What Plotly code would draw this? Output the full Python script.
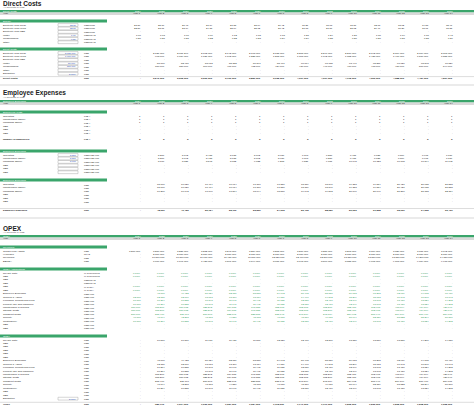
import plotly.graph_objects as go

W, H = 474, 409
GREEN = "#3aa56b"
GREY = "#d9d9d9"
TXT = "#222222"
GTXT = "#2f9a5a"
FONT = "Liberation Sans"

years = [str(2024 + i) for i in range(15)]
year_labels = ["Year %d" % (i + 1) for i in range(15)]

# ---- Direct costs data ----
solar_price = [23.80, 25.70, 26.43, 27.14, 27.88, 28.64, 29.42, 30.21, 31.03, 31.87, 32.73, 33.62, 34.53, 35.47, 36.43]
wind_price = [22.50, 23.11, 23.74, 24.38, 25.04, 25.72, 26.42, 27.13, 27.87, 28.62, 29.40, 30.20, 31.01, 31.85, 32.72]
water_price = [1.00, 1.03, 1.06, 1.09, 1.12, 1.15, 1.18, 1.21, 1.24, 1.27, 1.30, 1.34, 1.37, 1.41, 1.45]
cons_price = [0.20, 0.21, 0.21, 0.22, 0.22, 0.23, 0.24, 0.24, 0.25, 0.26, 0.26, 0.27, 0.28, 0.29, 0.29]
solar_cost = [None, 2121000, 2081240, 2102000, 2142000, 2163000, 2185000, 2208000, 2246000, 2270000, 2342000, 2369000, 2379000, 2398000, 2442000]
wind_cost = [None, 998000, 1089000, 1121000, 1192000, 1228000, 1265000, 1303000, 1342000, 1382000, 1423000, 1466000, 1510000, 1555000, 1625000]
water_cost = [None, 51000, 52437, 53912, 55382, 56897, 58461, 60074, 61735, 63447, 65211, 67026, 68898, 70829, 71413]
cons_cost = [None, 370000, 380000, 390000, 401000, 412000, 424000, 436000, 447000, 460000, 473000, 486000, 500000, 544000, 571000]
direct_total = [None, 3540000, 3602000, 3666000, 3790000, 3859000, 3932000, 4007000, 4097000, 4175000, 4303000, 4388000, 4457000, 4567000, 4709000]

# ---- Employee data ----
fte = [1] * 15
n_employees = [3] * 15
op_rate = [None, 5200, 5342, 5488, 5638, 5792, 5950, 6113, 6280, 6451, 6628, 6809, 6995, 7186, 7382]
mo_rate = [None, 5200, 5342, 5488, 5638, 5792, 5950, 6113, 6280, 6451, 6628, 6809, 6995, 7186, 7382]
mg_rate = [None, 8100, 8321, 8548, 8782, 9022, 9268, 9521, 9781, 10048, 10323, 10605, 10894, 11192, 11497]
op_cost = [None, 15600, 16026, 16464, 16914, 17376, 17850, 18339, 18840, 19353, 19884, 20427, 20985, 21558, 22146]
mo_cost = [None, 15600, 16026, 16464, 16914, 17376, 17850, 18339, 18840, 19353, 19884, 20427, 20985, 21558, 22146]
mg_cost = [None, 16200, 16642, 17096, 17564, 18044, 18536, 19042, 19562, 20096, 20646, 21210, 21788, 22384, 22994]
emp_total = [None, 48000, 49422, 50724, 52110, 53530, 54992, 56495, 58050, 59633, 61268, 62939, 64665, 66439, 68224]

# ---- OPEX data ----
gfa = [3200000, 3210000, 3221000, 3232000, 3243000, 3254000, 3265000, 3276000, 3287000, 3298000, 3309000, 3320000, 3331000, 3342000, 3353000]
hydrogen = [0, 2300000, 2310000, 2310000, 2310000, 2310000, 2310000, 2310000, 2310000, 2310000, 2310000, 2310000, 2310000, 2310000, 2310000]
revenues = [None, 10570000, 10870000, 11170000, 11480000, 11800000, 12120000, 12460000, 12800000, 13150000, 13510000, 13880000, 14260000, 14650000, 15050000]
ebitda = [None, 7000000, 7191000, 7423000, 7591000, 7844000, 8081000, 8348000, 8590000, 8855000, 9095000, 9363000, 9654000, 9913000, 10196000]
pct_rev = ["0.10%"] * 15
pct_gfa = ["0.10%"] * 15
ga_rate = [12000, 12330, 12666, 13013, 13369, 13734, 14110, 14496, 14892, 15299, 15718, 16148, 16590, 17043, 17509]
fix_rate = [10000, 10274, 10555, 10843, 11140, 11445, 11758, 12080, 12410, 12749, 13098, 13456, 13824, 14202, 14591]
mr_rate = [300000, 308200, 316632, 325292, 334188, 343328, 352718, 362365, 372276, 382457, 392918, 403664, 414704, 426046, 437698]
tr_rate = [200000, 205470, 211090, 216863, 222795, 228888, 235148, 241579, 248184, 254972, 261946, 269109, 276470, 284031, 291799]
sec_rate = [40000, 41094, 42218, 43373, 44559, 45778, 47030, 48316, 49637, 50994, 52389, 53822, 55294, 56806, 58360]
cont_rate = [10000, 10274, 10555, 10843, 11140, 11445, 11758, 12080, 12410, 12749, 13098, 13456, 13824, 14202, 14591]
royalty = [None, 10570, 10870, 11170, 11480, 11800, 12120, 12460, 12800, 13150, 13510, 13880, 14260, 14650, 15050]
ga_cost = [None, 12330, 12666, 13013, 13369, 13734, 14110, 14496, 14892, 15299, 15718, 16148, 16590, 17043, 17509]
fix_cost = [None, 10274, 10555, 10843, 11140, 11445, 11758, 12080, 12410, 12749, 13098, 13456, 13824, 14202, 14591]
mr_cost = [None, 308200, 316632, 325292, 334188, 343328, 352718, 362365, 372276, 382457, 392918, 403664, 414704, 426046, 437698]
tr_cost = [None, 205470, 211090, 216863, 222795, 228888, 235148, 241579, 248184, 254972, 261946, 269109, 276470, 284031, 291799]
sec_cost = [None, 41094, 42218, 43373, 44559, 45778, 47030, 48316, 49637, 50994, 52389, 53822, 55294, 56806, 58360]
cont_cost = [None, 10274, 10555, 10843, 11140, 11445, 11758, 12080, 12410, 12749, 13098, 13456, 13824, 14202, 14591]
opex_total = [None, 980710, 1004000, 1030000, 1057000, 1084000, 1112000, 1141000, 1171000, 1202000, 1233000, 1265000, 1298000, 1332000, 1367000]

COLX = [133 + 24 * i for i in range(15)]
fig = go.Figure()
shapes, ann = [], []


def txt(x, y, s, size=3, color=TXT, bold=False, anchor="left"):
    if bold:
        s = "<b>%s</b>" % s
    ann.append(dict(x=x, y=y, text=s, showarrow=False, xanchor=anchor, yanchor="middle", borderpad=0,
                    font=dict(size=size, color=color, family=FONT)))


def rect(x0, y0, x1, y1, fill=None, line=None):
    shapes.append(dict(type="rect", x0=x0, y0=y0, x1=x1, y1=y1, fillcolor=fill or "rgba(0,0,0,0)",
                       line=dict(width=0.5 if line else 0, color=line or "rgba(0,0,0,0)")))


def hline(y, x0=0, x1=W, color="#bbbbbb", w=0.5):
    shapes.append(dict(type="line", x0=x0, x1=x1, y0=y, y1=y, line=dict(color=color, width=w)))


def fmt(v, dec=0):
    if v is None:
        return "-"
    if isinstance(v, str):
        return v
    if dec:
        return "%.2f" % v
    return "{:,}".format(int(round(v))) if v != 0 else "-"


def header(y, title, sub, bar):
    txt(2, y, title, size=6.5, bold=True)
    txt(2, y + 4.5, sub, size=2.5, color="#555")
    rect(0, y + 7, W, y + 9.5, fill=GREEN)
    txt(2, y + 8.2, bar, size=2.5, color="white")
    for i, x in enumerate(COLX):
        txt(x + 9, y + 8.2, years[i], size=2.5, color="white", anchor="right")
    rect(0, y + 9.5, W, y + 12, fill=GREY)
    txt(2, y + 10.8, "Year", size=2.5)
    for i, x in enumerate(COLX):
        txt(x + 9, y + 10.8, year_labels[i], size=2.5, anchor="right")


def section(y, title):
    rect(0, y - 1.6, 107, y + 1.6, fill=GREEN)
    txt(2, y, title, size=2.5, color="white")


def row(y, label, unit, vals=None, inp=None, dec=0, color=TXT, bold=False, box=False):
    txt(2, y, label, size=2.5, bold=bold)
    if box or inp is not None:
        rect(58, y - 1.4, 78, y + 1.4, line="#aaaaaa")
        if inp is not None:
            txt(77, y, inp, size=2.3, color="#1f4fbf", anchor="right")
    txt(83, y, unit, size=2.3, bold=bold)
    for i, x in enumerate(COLX):
        v = vals[i] if vals is not None else None
        txt(x + 9, y, fmt(v, dec), size=2.5, color=color, bold=bold, anchor="right")


S = 3.45
# ---------------- Direct Costs ----------------
header(3, "Direct Costs", "All amounts in USD", "Direct Costs")
section(21, "Energy")
en = [("Electricity from Solar", "USD/MWh", solar_price, "23.80"), ("Electricity from Wind", "USD/MWh", wind_price, "22.50"),
      ("Electricity from TBD", "USD/MWh", None, None), ("Water", "USD/kg H2", water_price, "1.00"),
      ("Consumables", "USD/kg H2", cons_price, "0.20"), ("Other", "USD/kg H2", None, None)]
for k, (l, u, v, i) in enumerate(en):
    row(25 + k * S, l, u, v, i, dec=2, box=True)
section(49, "Direct Costs")
dc = [("Electricity from Solar", solar_cost, "2,121,000"), ("Electricity from Wind", wind_cost, "1,000,000"),
      ("Electricity from TBD", None, None), ("Water", water_cost, "51,000"), ("Consumables", cons_cost, "370,000"),
      ("Other", None, None), ("Escalation", None, "2.70%")]
for k, (l, v, i) in enumerate(dc):
    row(53 + k * S, l, "USD", v, i, box=True)
hline(76.6)
row(78.3, "Direct Costs", "USD", direct_total, bold=True)
hline(85, color="#e5e5e5", w=1.5)

# ---------------- Employee Expenses ----------------
header(93, "Employee Expenses", "All amounts in USD", "Employee Expenses")
names = ["Operators", "Maintenance Officer", "Managing Officer", "TBD", "TBD", "TBD"]
section(112, "Employees (FTE)")
for k, l in enumerate(names):
    row(116 + k * S, l, "FTE #", fte if k < 3 else None)
row(139, "Number of Employees", "FTE #", n_employees, bold=True)
section(151, "Employee Expenses")
rates = [op_rate, mo_rate, mg_rate, None, None, None]
rinp = ["5,200", "5,200", "8,100", None, None, None]
for k, l in enumerate(names):
    row(155 + k * S, l, "USD/FTE/Year", rates[k], rinp[k], box=True)
section(180, "Employee Expenses")
costs = [op_cost, mo_cost, mg_cost, None, None, None]
for k, l in enumerate(names):
    row(184.5 + k * S, l, "USD", costs[k])
hline(208.5)
row(210, "Employee Expenses", "USD", emp_total, bold=True)
hline(218, color="#e5e5e5", w=1.5)

# ---------------- OPEX ----------------
header(228, "OPEX", "All amounts in USD", "OPEX")
section(247, "Revenues")
rv = [("Gross Fixed Assets", "USD", gfa), ("Hydrogen", "kg H2", hydrogen), ("Revenues", "USD", revenues), ("EBITDA", "USD", ebitda)]
for k, (l, u, v) in enumerate(rv):
    row(251 + k * S, l, u, v)
section(269, "OPEX Assumptions")
oa = [("Royalty Rate", "% of Revenues", pct_rev), ("TBD", "% of Revenues", pct_rev), ("TBD", "USD/kg H2", None),
      ("TBD", "USD/kg H2", None), ("TBD", "% of GFA", pct_gfa), ("TBD", "% of GFA", pct_gfa),
      ("Employee Expenses", "USD/Year", [None] + emp_total[1:]), ("General & Admin", "USD/Year", ga_rate),
      ("Licensing, Permits and Fees", "USD/Year", fix_rate), ("Property Tax and Insurance", "USD/Year", fix_rate),
      ("Maintenance & Repairs", "USD/Year", mr_rate), ("Storage Costs", "USD/Year", mr_rate),
      ("Transport Costs", "USD/Year", tr_rate), ("Security", "USD/Year", sec_rate),
      ("Contingency", "USD/Year", cont_rate), ("TBD", "USD/Year", None), ("TBD", "USD/Year", None)]
for k, (l, u, v) in enumerate(oa):
    row(273 + k * S, l, u, v, color=GTXT)
section(336, "OPEX")
oo = [("Royalty Rate", royalty), ("TBD", None), ("TBD", None), ("TBD", None), ("TBD", None), ("TBD", None),
      ("Employee Expenses", emp_total), ("General & Admin", ga_cost), ("Licensing, Permits and Fees", fix_cost),
      ("Property Tax and Insurance", fix_cost), ("Maintenance & Repairs", mr_cost), ("Storage Costs", mr_cost),
      ("Transport Costs", tr_cost), ("Security", sec_cost), ("Contingency", cont_cost), ("TBD", None), ("TBD", None)]
for k, (l, v) in enumerate(oo):
    row(340 + k * S, l, "USD", v)
row(340 + 17 * S, "Escalation", "USD", None, "2.70%", box=True)
hline(402.3)
row(404, "OPEX", "USD", opex_total, bold=True)

fig.update_layout(width=W, height=H, margin=dict(l=0, r=0, t=0, b=0), paper_bgcolor="white", plot_bgcolor="white",
                  xaxis=dict(range=[0, W], visible=False, fixedrange=True),
                  yaxis=dict(range=[H, 0], visible=False, fixedrange=True),
                  shapes=shapes, annotations=ann, showlegend=False)
fig.write_html("out.html", config={"displayModeBar": False},
               post_script="document.body.style.margin='0';document.body.style.overflow='hidden';")
